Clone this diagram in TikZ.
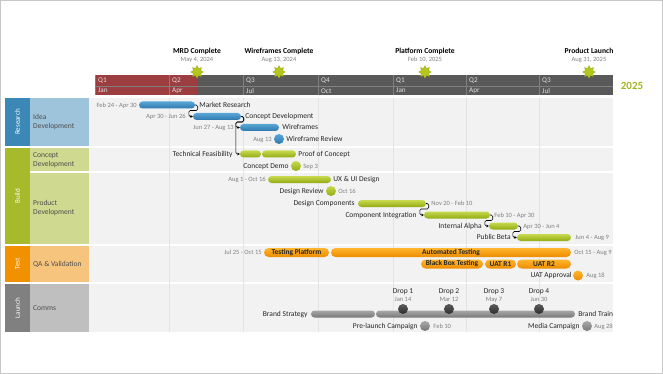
\documentclass[tikz,border=0pt]{standalone}
\usepackage{fontspec}
\setmainfont{Carlito}
\usepackage{xcolor}
\usepackage{tikz}
\usetikzlibrary{positioning,shapes.geometric,arrows.meta}
\definecolor{ResearchDark}{rgb}{0.23, 0.53, 0.71}
\definecolor{ResearchLight}{rgb}{0.62, 0.77, 0.86}
\definecolor{BuildDark}{rgb}{0.65, 0.73, 0.17}
\definecolor{BuildLight}{rgb}{0.81, 0.85, 0.56}
\definecolor{TestDark}{rgb}{0.95, 0.57, 0.0}
\definecolor{TestLight}{rgb}{0.97, 0.77, 0.49}
\definecolor{LaunchDark}{rgb}{0.5, 0.5, 0.5}
\definecolor{LaunchLight}{rgb}{0.75, 0.75, 0.75}
\definecolor{LaneBack}{rgb}{0.95, 0.95, 0.95}
\definecolor{GridLine}{rgb}{0.89, 0.89, 0.89}
\definecolor{HeaderDark}{rgb}{0.35, 0.35, 0.35}
\definecolor{HeaderPast}{rgb}{0.61, 0.24, 0.25}
\definecolor{HeaderLine}{rgb}{0.5, 0.5, 0.5}
\definecolor{StarGreen}{rgb}{0.71, 0.78, 0.11}
\definecolor{YearGreen}{rgb}{0.64, 0.71, 0.12}
\definecolor{BlueTop}{rgb}{0.35, 0.65, 0.84}
\definecolor{BlueBot}{rgb}{0.18, 0.47, 0.68}
\definecolor{GreenTop}{rgb}{0.78, 0.85, 0.31}
\definecolor{GreenBot}{rgb}{0.58, 0.67, 0.07}
\definecolor{OrangeTop}{rgb}{1.0, 0.71, 0.18}
\definecolor{OrangeBot}{rgb}{0.93, 0.55, 0.0}
\definecolor{GrayTop}{rgb}{0.66, 0.66, 0.66}
\definecolor{GrayBot}{rgb}{0.47, 0.47, 0.47}
\definecolor{DropTop}{rgb}{0.36, 0.36, 0.36}
\definecolor{DropBot}{rgb}{0.18, 0.18, 0.18}
\definecolor{TaskText}{rgb}{0.15, 0.15, 0.15}
\definecolor{DateText}{rgb}{0.5, 0.5, 0.5}
\definecolor{LaneText}{rgb}{0.3, 0.3, 0.3}
\definecolor{FrameGray}{rgb}{0.78, 0.78, 0.78}

\tikzset{
	lbl/.style={inner sep=0, font=\fontsize{7.5}{9}\selectfont, text=TaskText, text height=5.4pt, text depth=0.6pt},
	dlbl/.style={inner sep=0, font=\fontsize{6.5}{7.5}\selectfont, text=DateText, text height=4.6pt, text depth=0.5pt},
	mtitle/.style={inner sep=0, font=\bfseries\fontsize{7.6}{9}\selectfont, text=black},
	mdate/.style={inner sep=0, font=\fontsize{6.5}{7.5}\selectfont, text=DateText},
	qlbl/.style={inner sep=0, anchor=west, font=\fontsize{7.2}{8}\selectfont, text=white!88!black},
	lanelbl/.style={inner sep=0, anchor=west, align=left, font=\fontsize{7.5}{9}\selectfont, text=LaneText},
	grplbl/.style={inner sep=0, rotate=90, font=\fontsize{7}{8}\selectfont, text=white},
	bar/.style={rectangle, rounded corners=3.5pt, minimum height=7, inner sep=0},
	bluebar/.style={bar, top color=BlueTop, bottom color=BlueBot},
	greenbar/.style={bar, top color=GreenTop, bottom color=GreenBot},
	graybar/.style={bar, top color=GrayTop, bottom color=GrayBot},
	testbar/.style={bar, rounded corners=4.5pt, minimum height=9, top color=OrangeTop, bottom color=OrangeBot,
		font=\bfseries\fontsize{7.4}{8}\selectfont, text=TaskText},
	ms/.style={circle, minimum size=10, inner sep=0},
	bluems/.style={ms, top color=BlueTop, bottom color=BlueBot},
	greenms/.style={ms, top color=GreenTop, bottom color=GreenBot},
	orangems/.style={ms, top color=OrangeTop, bottom color=OrangeBot},
	grayms/.style={ms, top color=GrayTop, bottom color=GrayBot},
	dropms/.style={ms, top color=DropTop, bottom color=DropBot},
	hstar/.style={star, star points=8, star point ratio=1.6, minimum size=12.5, inner sep=0,
		fill=StarGreen, draw=StarGreen!80!black, line width=0.3pt},
	link/.style={draw=black, line width=0.6pt, rounded corners=1.5pt, -{Stealth[length=2.5pt,width=2.8pt]}},
}

\begin{document}
\begin{tikzpicture}[x=1pt, y=-1pt]
	\useasboundingbox (0,0) rectangle (663,374);
	\draw[FrameGray, line width=0.8pt] (0.6,0.6) rectangle (662.4,373.4);

	% time scale
	\fill[HeaderDark] (95,75) rectangle (613,95);
	\fill[HeaderPast] (95,75) rectangle (197,95);
	\draw[HeaderLine, line width=0.4pt] (95,86) -- (613,86);
	\foreach \x/\q/\m in {95/Q1/Jan, 169/Q2/Apr, 243/Q3/Jul, 318/Q4/Oct, 393/Q1/Jan, 466/Q2/Apr, 539/Q3/Jul} {
		\draw[HeaderLine, line width=0.4pt] (\x,75) -- (\x,95);
		\node[qlbl] (q\x) at (\x+3,80.7) {\q};
		\node[qlbl] (m\x) at (\x+3,90.7) {\m};
	}
	\node[inner sep=0, font=\bfseries\fontsize{11}{12}\selectfont, text=YearGreen] (year) at (632,86) {2025};

	% swimlanes
	\fill[ResearchDark] (5,98) rectangle (30,146);
	\fill[ResearchLight] (30,98) rectangle (89,146);
	\fill[LaneBack] (89,98) rectangle (613,146);
	\fill[BuildDark] (5,148) rectangle (30,244);
	\fill[BuildLight] (30,148) rectangle (89,244);
	\fill[LaneBack] (89,148) rectangle (613,244);
	\draw[white, line width=1pt] (30,172) -- (613,172);
	\fill[TestDark] (5,246) rectangle (30,282);
	\fill[TestLight] (30,246) rectangle (89,282);
	\fill[LaneBack] (89,246) rectangle (613,282);
	\fill[LaunchDark] (5,284) rectangle (30,332);
	\fill[LaunchLight] (30,284) rectangle (89,332);
	\fill[LaneBack] (89,284) rectangle (613,332);
	\foreach \x in {169,243,318,393,466,539} {
		\draw[GridLine, line width=0.5pt] (\x,98) -- (\x,332);
	}

	\node[grplbl] (research) at (17.5,122) {Research};
	\node[grplbl] (build) at (17.5,196) {Build};
	\node[grplbl] (test) at (17.5,264) {Test};
	\node[grplbl] (launch) at (17.5,308) {Launch};
	\node[lanelbl] (idea) at (33,122) {Idea\\Development};
	\node[lanelbl] (concept) at (33,160) {Concept\\Development};
	\node[lanelbl] (product) at (33,208) {Product\\Development};
	\node[lanelbl] (qa) at (33,264) {QA \& Validation};
	\node[lanelbl] (comms) at (33,308) {Comms};

	% milestones on the time scale
	\node[hstar] (mrd) at (197,72) {};
	\node[mtitle] (mrdt) at (197,51) {MRD Complete};
	\node[mdate] (mrdd) at (197,59.5) {May 4, 2024};
	\node[hstar] (wfc) at (279,72) {};
	\node[mtitle] (wfct) at (279,51) {Wireframes Complete};
	\node[mdate] (wfcd) at (279,59.5) {Aug 13, 2024};
	\node[hstar] (plc) at (425,72) {};
	\node[mtitle] (plct) at (425,51) {Platform Complete};
	\node[mdate] (plcd) at (425,59.5) {Feb 10, 2025};
	\node[hstar] (prl) at (589,72) {};
	\node[mtitle] (prlt) at (589,51) {Product Launch};
	\node[mdate] (prld) at (589,59.5) {Aug 31, 2025};

	% research
	\node[bluebar, minimum width=56] (mr) at (167,105) {};
	\node[lbl, right=4pt of mr] (mrl) {Market Research};
	\node[dlbl, left=2pt of mr] (mrd) {Feb 24 - Apr 30};
	\node[bluebar, minimum width=48] (cd) at (217,116.5) {};
	\node[lbl, right=4pt of cd] (cdl) {Concept Development};
	\node[dlbl, left=7pt of cd] (cdd) {Apr 30 - Jun 26};
	\node[bluebar, minimum width=39] (wf) at (259.5,127.5) {};
	\node[lbl, right=3pt of wf] (wfl) {Wireframes};
	\node[dlbl, left=6pt of wf] (wfd) {Jun 27 - Aug 13};
	\node[bluems] (wr) at (279,139) {};
	\node[lbl, right=2pt of wr] (wrl) {Wireframe Review};
	\node[dlbl, left=2pt of wr] (wrd) {Aug 13};

	% build
	\node[greenbar, minimum width=21] (tf) at (250.5,154) {};
	\node[lbl, left=7pt of tf] (tfl) {Technical Feasibility};
	\node[greenbar, minimum width=34] (poc) at (279,154) {};
	\node[lbl, right=2pt of poc] (pocl) {Proof of Concept};
	\node[greenms] (cdm) at (296,166) {};
	\node[lbl, left=2pt of cdm] (cdml) {Concept Demo};
	\node[dlbl, right=2pt of cdm] (cdmd) {Sep 3};
	\node[greenbar, minimum width=63] (ux) at (299.5,179.5) {};
	\node[lbl, right=2pt of ux] (uxl) {UX \& UI Design};
	\node[dlbl, left=2pt of ux] (uxd) {Aug 1 - Oct 16};
	\node[greenms] (drv) at (331,191) {};
	\node[lbl, left=2pt of drv] (drvl) {Design Review};
	\node[dlbl, right=2pt of drv] (drvd) {Oct 16};
	\node[greenbar, minimum width=68] (dc) at (392,203.5) {};
	\node[lbl, left=3pt of dc] (dcl) {Design Components};
	\node[dlbl, right=5pt of dc] (dcd) {Nov 20 - Feb 10};
	\node[greenbar, minimum width=66] (ci) at (457,215) {};
	\node[lbl, left=7pt of ci] (cil) {Component Integration};
	\node[dlbl, right=4pt of ci] (cid) {Feb 10 - Apr 30};
	\node[greenbar, minimum width=29] (ia) at (503.5,226) {};
	\node[lbl, left=7pt of ia] (ial) {Internal Alpha};
	\node[dlbl, right=5pt of ia] (iad) {Apr 30 - Jun 4};
	\node[greenbar, minimum width=54] (pb) at (544,237.5) {};
	\node[lbl, left=6pt of pb] (pbl) {Public Beta};
	\node[dlbl, right=4pt of pb] (pbd) {Jun 4 - Aug 9};

	% test
	\node[testbar, minimum width=65] (tp) at (296.5,252.5) {Testing Platform};
	\node[dlbl, left=2pt of tp] (tpd) {Jul 25 - Oct 15};
	\node[testbar, minimum width=240] (at) at (451,252.5) {Automated Testing};
	\node[dlbl, right=3pt of at] (atd) {Oct 15 - Aug 9};
	\node[testbar, minimum width=62] (bbt) at (452,264) {Black Box Testing};
	\node[testbar, minimum width=31] (uat1) at (500.5,264) {UAT R1};
	\node[testbar, minimum width=54] (uat2) at (544,264) {UAT R2};
	\node[orangems] (uata) at (578,275.5) {};
	\node[lbl, left=1pt of uata] (uatal) {UAT Approval};
	\node[dlbl, right=3pt of uata] (uatad) {Aug 18};

	% launch
	\node[graybar, minimum width=64] (bs) at (343,314) {};
	\node[lbl, left=3pt of bs] (bsl) {Brand Strategy};
	\node[graybar, minimum width=199] (bt) at (475.5,314) {};
	\node[lbl, right=3pt of bt] (btl) {Brand Train};
	\foreach \x/\n/\d in {403/1/Jan 14, 449/2/Mar 12, 494/3/May 7, 539/4/Jun 30} {
		\node[dropms] (drop\n) at (\x,309) {};
		\node[lbl] (drop\n l) at (\x,291) {Drop \n};
		\node[mdate] (drop\n d) at (\x,299.5) {\d};
	}
	\node[grayms] (plc) at (425,326) {};
	\node[lbl, left=2pt of plc] (plcl) {Pre-launch Campaign};
	\node[dlbl, right=3pt of plc] (plcd) {Feb 10};
	\node[grayms] (mdc) at (587,326) {};
	\node[lbl, left=2pt of mdc] (mdcl) {Media Campaign};
	\node[dlbl, right=2pt of mdc] (mdcd) {Aug 28};

	% dependencies
	\draw[link] (mr.east) -- ++(2.5,0) -- ++(0,5.5) -| ([xshift=-4pt]cd.west) -- (cd.west);
	\draw[link] (cd.east) -- ++(2.5,0) -- ++(0,5.5) -| ([xshift=-4pt]wf.west) -- (wf.west);
	\draw[link] (cd.east) -- ++(2.5,0) -- ++(0,5.5) -| ([xshift=-4pt]tf.west) -- (tf.west);
	\draw[link] (dc.east) -- ++(2.5,0) -- ++(0,5.5) -| ([xshift=-4pt]ci.west) -- (ci.west);
	\draw[link] (ci.east) -- ++(2.5,0) -- ++(0,5.5) -| ([xshift=-4pt]ia.west) -- (ia.west);
	\draw[link] (ia.east) -- ++(2.5,0) -- ++(0,5.5) -| ([xshift=-4pt]pb.west) -- (pb.west);
\end{tikzpicture}
\end{document}
